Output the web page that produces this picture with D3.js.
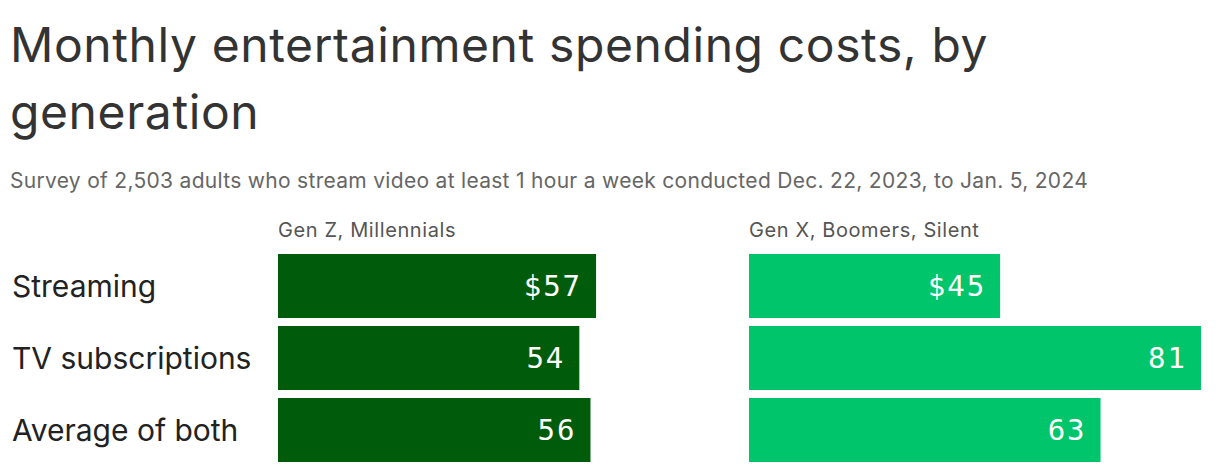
<!DOCTYPE html>
<html><head><meta charset="utf-8">
<script src="https://cdn.jsdelivr.net/npm/d3@7"></script>
<style>body{margin:0;background:#fff}</style>
</head><body>
<svg id="chart" width="1220" height="472"></svg>
<script>
var categories = ["Streaming", "TV subscriptions", "Average of both"];
var groups = ["Gen Z, Millennials", "Gen X, Boomers, Silent"];
var youngValues = [57, 54, 56];
var olderValues = [45, 81, 63];
var colors = ["#005c0a", "#00c56b"];

var svg = d3.select("#chart");
var font = "Inter, 'Noto Sans', sans-serif";

svg.append("text").attr("x", 10).attr("y", 62).attr("font-family", font).attr("font-size", 48)
    .attr("letter-spacing", 0.6).attr("fill", "#333").text("Monthly entertainment spending costs, by");
svg.append("text").attr("x", 10).attr("y", 129).attr("font-family", font).attr("font-size", 48)
    .attr("letter-spacing", 0.6).attr("fill", "#333").text("generation");
svg.append("text").attr("x", 10).attr("y", 188).attr("font-family", font).attr("font-size", 21)
    .attr("letter-spacing", 0.3).attr("fill", "#666").text("Survey of 2,503 adults who stream video at least 1 hour a week conducted Dec. 22, 2023, to Jan. 5, 2024");

var y = d3.scaleBand().domain(categories).range([254, 462]).paddingInner(8/72).paddingOuter(0);
var x = d3.scaleLinear().domain([0, 81]).range([0, 452]);
var starts = [278, 749];
var series = [youngValues, olderValues];

svg.selectAll(".rowlabel").data(categories).enter().append("text")
    .attr("x", 12).attr("y", function(d){ return y(d) + y.bandwidth()/2; })
    .attr("dy", "0.35em").attr("font-family", font).attr("font-size", 30).attr("fill", "#222")
    .text(function(d){ return d; });

for (var g = 0; g < 2; g++)
{
    var col = svg.append("g").attr("transform", "translate(" + starts[g] + ",0)");
    col.append("text").attr("x", 0).attr("y", 237).attr("font-family", font).attr("font-size", 20)
        .attr("letter-spacing", 0.6).attr("fill", "#555").text(groups[g]);
    var data = series[g].map(function(v, i){ return {c: categories[i], v: v, i: i}; });
    col.selectAll("rect").data(data).enter().append("rect")
        .attr("x", 0).attr("y", function(d){ return y(d.c); })
        .attr("width", function(d){ return x(d.v); }).attr("height", y.bandwidth())
        .attr("fill", colors[g]);
    col.selectAll(".val").data(data).enter().append("text")
        .attr("x", function(d){ return x(d.v) - 14; }).attr("y", function(d){ return y(d.c) + y.bandwidth()/2; })
        .attr("dy", "0.35em").attr("text-anchor", "end")
        .attr("font-family", "'DejaVu Sans Mono', 'Liberation Mono', monospace").attr("font-size", 29)
        .attr("letter-spacing", 2).attr("fill", "#fff")
        .text(function(d){ return (d.i === 0 ? "$" : "") + d.v; });
}
</script>
</body></html>
